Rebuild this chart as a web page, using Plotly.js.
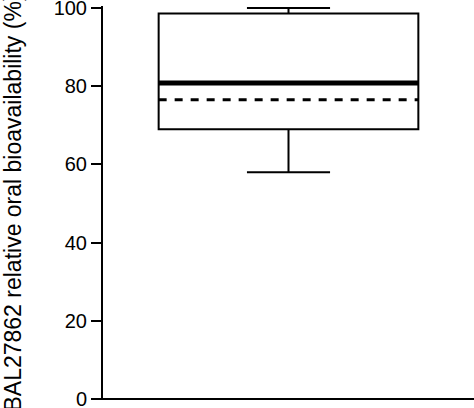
<!DOCTYPE html>
<html>
<head>
<meta charset="utf-8">
<script src="https://cdn.plot.ly/plotly-3.0.1.min.js"></script>
<style>
  html, body { margin: 0; padding: 0; background: #fff; }
  #chart { width: 474px; height: 408px; }
</style>
</head>
<body>
<div id="chart"></div>
<script>
// box summary (%)
var groups = [0];
var lowerFence = [58];
var q1 = [69];
var median = [80.8];
var mean = [76.5];
var q3 = [98.6];
var upperFence = [100];

var yTicks = [0, 20, 40, 60, 80, 100];

var boxWidth = 0.7;

var box = {
    type: 'box',
    x: groups,
    q1: q1,
    median: median,
    q3: q3,
    lowerfence: lowerFence,
    upperfence: upperFence,
    boxpoints: false,
    width: boxWidth,
    whiskerwidth: 0.32,
    fillcolor: 'rgba(0,0,0,0)',
    line: {color: '#000', width: 2},
    hoverinfo: 'skip',
    showlegend: false
};

var shapes = [];
// thick median and dashed mean drawn on top of the box
for (var i = 0; i < groups.length; i++) {
    shapes.push({
        type: 'line', xref: 'x', yref: 'y', layer: 'above',
        x0: groups[i] - boxWidth / 2, x1: groups[i] + boxWidth / 2,
        y0: median[i], y1: median[i],
        line: {color: '#000', width: 5}
    });
    shapes.push({
        type: 'line', xref: 'x', yref: 'y', layer: 'above',
        x0: groups[i] - boxWidth / 2, x1: groups[i] + boxWidth / 2,
        y0: mean[i], y1: mean[i],
        line: {color: '#000', width: 3, dash: '8px,8px'}
    });
}
// x axis line runs out under the y ticks
shapes.push({
    type: 'line', xref: 'paper', yref: 'paper',
    x0: -0.028, x1: 1, y0: 0, y1: 0,
    line: {color: '#000', width: 2}
});

var layout = {
    width: 474,
    height: 408,
    margin: {l: 103, r: 0, t: 6, b: 9},
    paper_bgcolor: '#fff',
    plot_bgcolor: '#fff',
    font: {family: 'Arial, "Liberation Sans", sans-serif', color: '#000'},
    showlegend: false,
    xaxis: {
        range: [-0.5, 0.5],
        showline: false,
        showticklabels: false,
        ticks: '',
        showgrid: false,
        zeroline: false,
        fixedrange: true
    },
    yaxis: {
        range: [0, 100.5],
        tickvals: yTicks,
        ticktext: yTicks.map(String),
        showline: true,
        linecolor: '#000',
        linewidth: 2,
        ticks: 'outside',
        ticklen: 10,
        tickwidth: 2,
        tickcolor: '#000',
        tickfont: {size: 20, color: '#000'},
        ticklabeloverflow: 'allow',
        showgrid: false,
        zeroline: false,
        automargin: false,
        title: {
            text: 'BAL27862 relative oral bioavailability (%)',
            font: {size: 23, color: '#000'},
            standoff: 40
        }
    },
    shapes: shapes
};

Plotly.newPlot('chart', [box], layout, {displayModeBar: false, staticPlot: true});
</script>
</body>
</html>
